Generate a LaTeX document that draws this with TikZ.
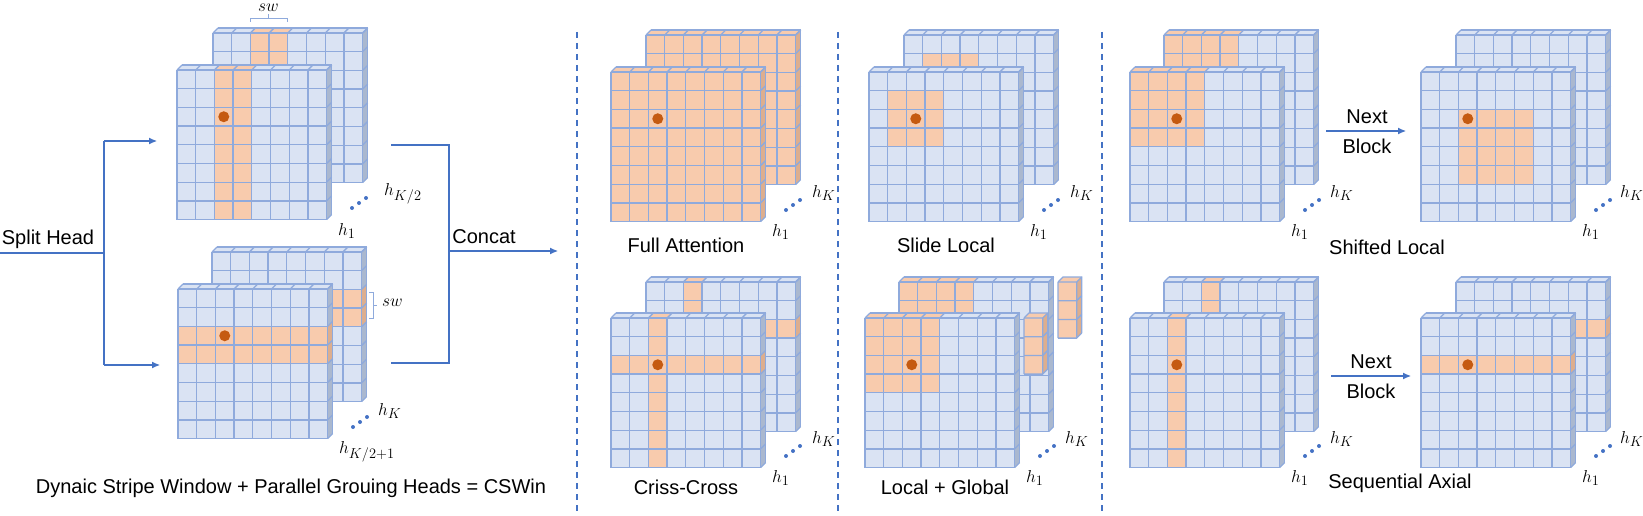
\documentclass[tikz,border=0pt]{standalone}
\usepackage{fontspec}
\setmainfont{Liberation Sans}
\usetikzlibrary{arrows.meta}
\definecolor{bl}{HTML}{DAE3F3}
\definecolor{bled}{HTML}{8FAADC}
\definecolor{bls}{HTML}{AAB8CF}
\definecolor{orf}{HTML}{F8CBAD}
\definecolor{ors}{HTML}{DDAE8E}
\definecolor{dotc}{HTML}{C55A11}
\definecolor{lnc}{HTML}{4472C4}
\def\cz{18.7}
\tikzset{
  ln/.style={draw=lnc, line width=1.1pt},
  arr/.style={ln, -{Latex[length=8pt,width=7pt]}},
  gl/.style={draw=bled, line width=1.3pt},
  lbl/.style={font=\fontsize{20}{22}\selectfont, inner sep=0pt},
  ml/.style={font=\fontsize{19}{21}\selectfont, inner sep=0pt, anchor=west},
  dsh/.style={draw=lnc, line width=1.1pt, dash pattern=on 6pt off 5pt}
}
\newcommand\slab[3]{%
\begin{scope}[shift={(#1,#2)}]
 \fill[bl] (0,0) rectangle (149.6,149.6);
 \fill[bl] (0,0)--(5,-5)--(154.6,-5)--(149.6,0)--cycle;
 \fill[bls] (149.6,0)--(154.6,-5)--(154.6,144.6)--(149.6,149.6)--cycle;
 \foreach \pa/\pb/\qa/\qb in {#3}{%
   \fill[orf] (\pa*\cz,\qa*\cz) rectangle ({(\pb+1)*\cz},{(\qb+1)*\cz});
   \ifnum\qa=0 \fill[orf] (\pa*\cz,0)--++(5,-5)--({(\pb+1)*\cz+5},-5)--({(\pb+1)*\cz},0)--cycle;\fi
   \ifnum\pb=7 \fill[ors] (149.6,\qa*\cz)--++(5,-5)--(154.6,{(\qb+1)*\cz-5})--(149.6,{(\qb+1)*\cz})--cycle;\fi
 }
 \foreach \i in {0,...,8}{%
   \draw[gl] (\i*\cz,0)--(\i*\cz,149.6);
   \draw[gl] (\i*\cz,0)--++(5,-5);
   \draw[gl] (0,\i*\cz)--(149.6,\i*\cz);
   \draw[gl] (149.6,\i*\cz)--++(5,-5);
 }
 \draw[gl] (5,-5)--(154.6,-5)--(154.6,144.6);
\end{scope}}
\newcommand\pcol[2]{%
\begin{scope}[shift={(#1,#2)}]
 \fill[orf] (0,0) rectangle (\cz,3*\cz);
 \fill[orf] (0,0)--(5,-5)--(\cz+5,-5)--(\cz,0)--cycle;
 \fill[ors] (\cz,0)--(\cz+5,-5)--(\cz+5,3*\cz-5)--(\cz,3*\cz)--cycle;
 \foreach \i in {0,1,2,3}{\draw[gl] (0,\i*\cz)--(\cz,\i*\cz)--++(5,-5);}
 \draw[gl] (0,0)--(0,3*\cz) (\cz,0)--(\cz,3*\cz) (0,0)--++(5,-5)--(\cz+5,-5)--(\cz+5,3*\cz-5);
\end{scope}}
\newcommand\pdot[2]{\fill[dotc] ({#1+2.5*\cz},{#2+2.5*\cz}) circle (5.5);}
\newcommand\hdots[2]{\fill[lnc] ({#1+175},{#2+138}) circle (2) ({#1+182},{#2+133}) circle (2) ({#1+189},{#2+128}) circle (2);}
\begin{document}
\begin{tikzpicture}[x=1pt,y=-1pt]
\useasboundingbox (0,0) rectangle (1643,516);
% panel 1 top
\slab{213}{33}{2/3/0/7}
\slab{177}{70}{2/3/0/7}
\pdot{177}{70}
\hdots{177}{70}
\node[ml] (a1) at (384,194) {$h_{K/2}$};
\node[ml] (a2) at (338,231) {$h_1$};
\draw[bled,line width=0.8pt] (250,22)--(250,18)--(287,18)--(287,22) (268.5,18)--(268.5,14);
\node[ml,anchor=center] (sw1) at (268.5,8) {$sw$};
% panel 1 bottom
\slab{212}{252}{0/7/2/3}
\slab{178}{289}{0/7/2/3}
\pdot{178}{289}
\hdots{178}{289}
\node[ml] (b1) at (378,411) {$h_K$};
\node[ml] (b2) at (339,452) {$h_{K/2+1}$};
\draw[bled,line width=0.8pt] (369,292)--(373,292)--(373,318)--(369,318) (373,305)--(377,305);
\node[ml] (sw2) at (382,303) {$sw$};
\node[lbl] (cap1) at (291,488) {Dynaic Stripe Window + Parallel Grouing Heads = CSWin};
% split / concat
\node[lbl] (sh) at (48,239) {Split Head};
\coordinate (s0) at (0,253); \coordinate (s1) at (104,253);
\coordinate (st) at (104,141); \coordinate (sb) at (104,365);
\coordinate (stt) at (157,141); \coordinate (sbb) at (160,365);
\draw[ln] (s0)--(s1) (st)--(sb);
\draw[arr] (st)--(stt);
\draw[arr] (sb)--(sbb);
\coordinate (c1) at (391,145); \coordinate (c2) at (449,145);
\coordinate (c3) at (449,363); \coordinate (c4) at (391,363);
\coordinate (cm) at (449,251); \coordinate (ce) at (558,251);
\draw[ln] (c1)--(c2)--(c3)--(c4);
\draw[arr] (cm)--(ce);
\node[lbl] (cc) at (484,237) {Concat};
% separators
\coordinate (d1a) at (577,32); \coordinate (d1b) at (577,516);
\coordinate (d2a) at (838,32); \coordinate (d2b) at (838,516);
\coordinate (d3a) at (1102,32); \coordinate (d3b) at (1102,516);
\draw[dsh] (d1a)--(d1b) (d2a)--(d2b) (d3a)--(d3b);
% full attention
\slab{646}{35}{0/7/0/7}
\slab{611}{72}{0/7/0/7}
\pdot{611}{72}
\hdots{611}{72}
\node[ml] (fa1) at (812,193) {$h_K$};
\node[ml] (fa2) at (772,232) {$h_1$};
\node[lbl] (fat) at (686,245) {Full Attention};
% slide local
\slab{904}{35}{1/3/1/3}
\slab{869}{72}{1/3/1/3}
\pdot{869}{72}
\hdots{869}{72}
\node[ml] (sl1) at (1070,193) {$h_K$};
\node[ml] (sl2) at (1030,232) {$h_1$};
\node[lbl] (slt) at (946,245) {Slide Local};
% shifted local
\slab{1164}{35}{0/3/0/3}
\slab{1130}{72}{0/3/0/3}
\pdot{1130}{72}
\hdots{1130}{72}
\node[ml] (sh1) at (1330,193) {$h_K$};
\node[ml] (sh2) at (1291,232) {$h_1$};
\slab{1456}{35}{0/-1/0/-1}
\slab{1421}{72}{2/5/2/5}
\pdot{1421}{72}
\hdots{1421}{72}
\node[ml] (sh3) at (1620,193) {$h_K$};
\node[ml] (sh4) at (1582,232) {$h_1$};
\coordinate (n1a) at (1326,131); \coordinate (n1b) at (1406,131);
\draw[arr] (n1a)--(n1b);
\node[lbl] (n1t) at (1367,117) {Next};
\node[lbl] (n1u) at (1367,146) {Block};
\node[lbl] (sht) at (1387,247) {Shifted Local};
% criss-cross
\slab{646}{282}{2/2/0/7,0/7/2/2}
\slab{611}{318}{2/2/0/7,0/7/2/2}
\pdot{611}{318}
\hdots{611}{318}
\node[ml] (cc1) at (812,439) {$h_K$};
\node[ml] (cc2) at (772,478) {$h_1$};
\node[lbl] (cct) at (686,487) {Criss-Cross};
% local + global
\slab{899}{282}{0/3/0/3}
\slab{865}{318}{0/3/0/3}
\pcol{1024}{318}
\pcol{1058}{282}
\pdot{865}{318}
\hdots{865}{318}
\node[ml] (lg1) at (1065,439) {$h_K$};
\node[ml] (lg2) at (1026,478) {$h_1$};
\node[lbl] (lgt) at (945,487) {Local + Global};
% sequential axial
\slab{1164}{282}{2/2/0/7}
\slab{1130}{318}{2/2/0/7}
\pdot{1130}{318}
\hdots{1130}{318}
\node[ml] (sa1) at (1330,439) {$h_K$};
\node[ml] (sa2) at (1291,478) {$h_1$};
\slab{1456}{282}{0/7/2/2}
\slab{1421}{318}{0/7/2/2}
\pdot{1421}{318}
\hdots{1421}{318}
\node[ml] (sa3) at (1620,439) {$h_K$};
\node[ml] (sa4) at (1582,478) {$h_1$};
\coordinate (n2a) at (1331,376); \coordinate (n2b) at (1411,376);
\draw[arr] (n2a)--(n2b);
\node[lbl] (n2t) at (1371,362) {Next};
\node[lbl] (n2u) at (1371,391) {Block};
\node[lbl] (sat) at (1400,483) {Sequential Axial};
\end{tikzpicture}
\end{document}
